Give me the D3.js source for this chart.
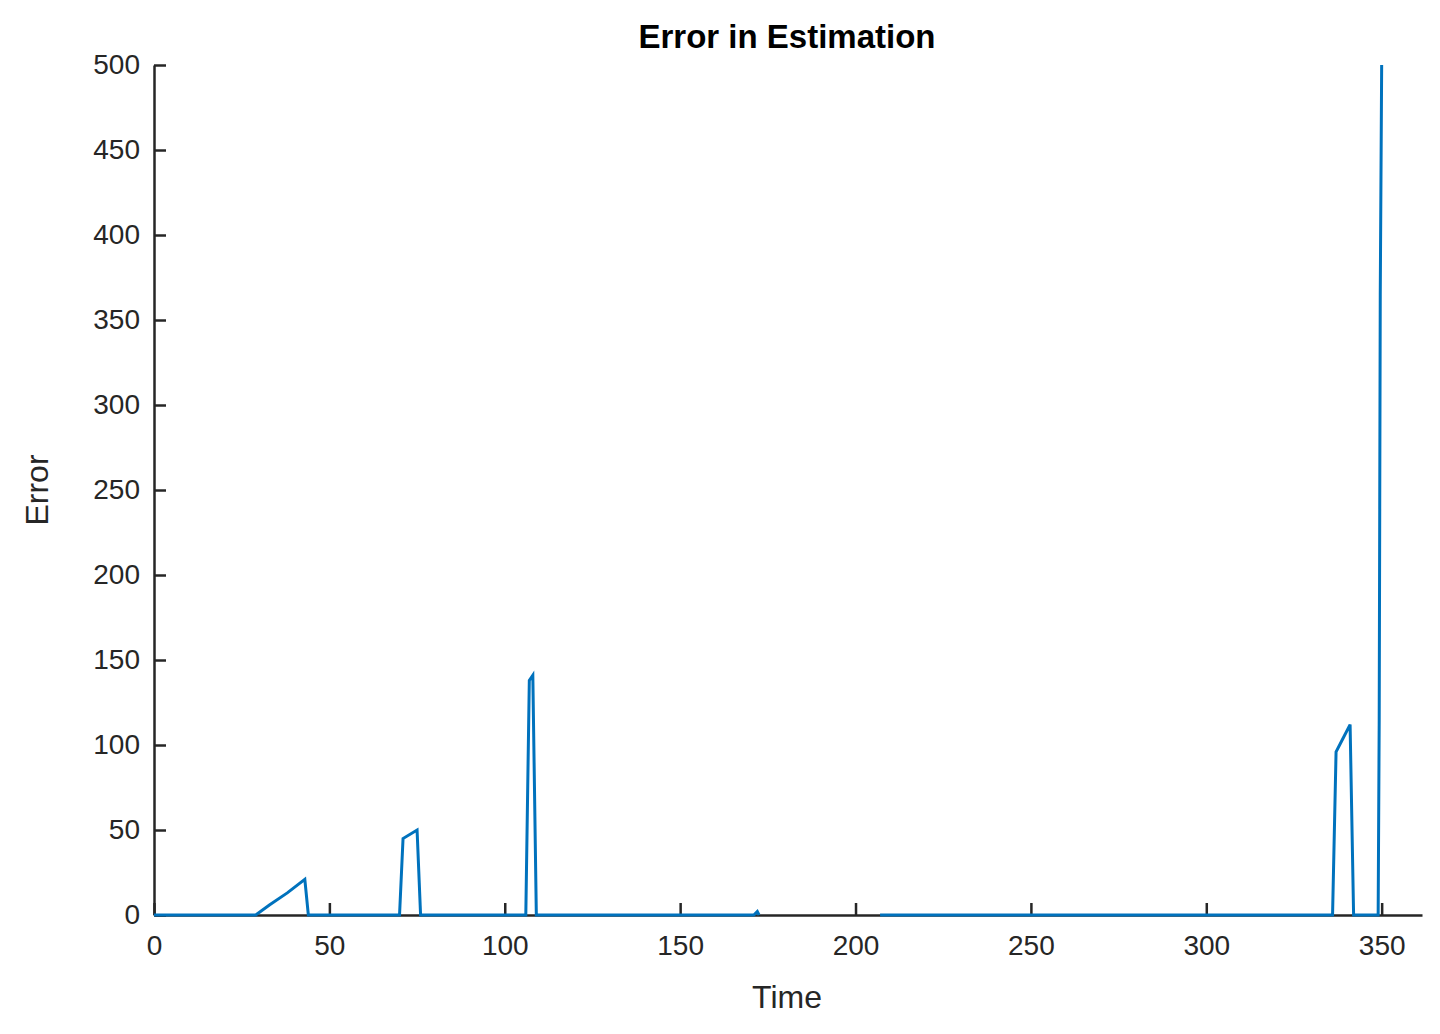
<!DOCTYPE html><html><head><meta charset="utf-8"><script src="https://cdn.jsdelivr.net/npm/d3@7"></script>
<style>body{margin:0;background:#fff}text{font-family:"Liberation Sans",Arial,sans-serif}</style></head><body><svg id="c" width="1440" height="1034"></svg>
<script>
const seg1T=[0,29,33,38,43,44,70,71,75,76,106,107,108,109,171,172,172.5];
const seg1E=[0,0,6,13,21,0,0,45,50,0,0,138,141,0,0,2,0];
const seg2T=[207,336,337,339,341,342,349,349.3,349.6,350];
const seg2E=[0,0,96,104,112,0,0,115,365,500];
const xTicks=[0,50,100,150,200,250,300,350];
const yTicks=[0,50,100,150,200,250,300,350,400,450,500];
const svg=d3.select("#c");
const x=d3.scaleLinear().domain([0,361.5]).range([154,1422]);
const y=d3.scaleLinear().domain([0,500]).range([915,65]);
const g=svg.append("g");
const line=d3.line().x(d=>x(d[0])).y(d=>y(d[1]));
[[seg1T,seg1E],[seg2T,seg2E]].forEach(([t,e])=>{
 g.append("path").attr("d",line(t.map((v,i)=>[v,e[i]]))).attr("fill","none").attr("stroke","#0072BD").attr("stroke-width",3);
});
const xa=svg.insert("g","g").attr("transform","translate(0,915)").call(d3.axisBottom(x).tickValues(xTicks).tickSizeInner(-12).tickSizeOuter(0).tickPadding(20));
const ya=svg.insert("g","g").attr("transform","translate(154,0)").call(d3.axisLeft(y).tickValues(yTicks).tickSizeInner(-12).tickSizeOuter(0).tickPadding(14));
[xa,ya].forEach(a=>{a.selectAll("path,line").attr("stroke","#262626").attr("stroke-width",2.5);a.selectAll("text").attr("font-size",28).attr("fill","#262626").attr("font-family","'Liberation Sans',Arial,sans-serif");});
svg.append("text").attr("x",787).attr("y",1008).attr("text-anchor","middle").attr("font-size",32).attr("fill","#262626").text("Time");
svg.append("text").attr("transform","translate(48,490) rotate(-90)").attr("text-anchor","middle").attr("font-size",32).attr("fill","#262626").text("Error");
svg.append("text").attr("x",787).attr("y",48).attr("text-anchor","middle").attr("font-size",33).attr("font-weight","bold").attr("fill","#000").text("Error in Estimation");
</script></body></html>
